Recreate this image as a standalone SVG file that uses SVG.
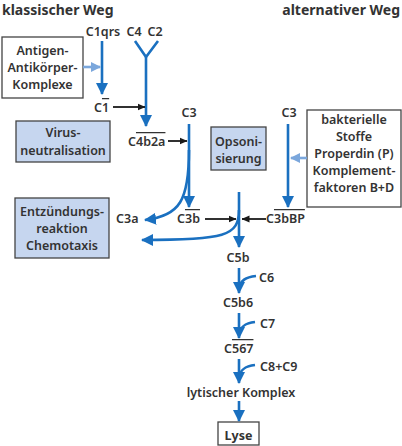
<svg xmlns="http://www.w3.org/2000/svg" width="402" height="446" viewBox="0 0 402 446">
<defs>
<style>
text{font-family:"Noto Sans","Liberation Sans",sans-serif;font-size:12.5px;font-weight:600;fill:#333;}
.t{font-weight:bold;font-size:14px;}
.m{text-anchor:middle;}
.b{font-weight:bold;}
.box{fill:#fff;stroke:#444;stroke-width:1.3;}
.hl{fill:#c6d6ef;stroke:#444;stroke-width:1.3;}
.bl{fill:none;stroke:#1a70c0;stroke-width:2.6;}
.lb{fill:none;stroke:#7ba7dc;stroke-width:2.6;}
.bk{fill:none;stroke:#1a1a1a;stroke-width:1.8;}
.ov{text-decoration:overline;}
</style>
<marker id="ab" markerUnits="userSpaceOnUse" markerWidth="12" markerHeight="12" viewBox="0 0 12 12" refX="11" refY="6" orient="auto"><path d="M0,0 L12,6 L0,12 Z" fill="#1a70c0"/></marker>
<marker id="al" markerUnits="userSpaceOnUse" markerWidth="10" markerHeight="10" viewBox="0 0 10 10" refX="9" refY="5" orient="auto"><path d="M0,0 L10,5 L0,10 Z" fill="#7ba7dc"/></marker>
<marker id="ak" markerUnits="userSpaceOnUse" markerWidth="8" markerHeight="8" viewBox="0 0 8 8" refX="7.5" refY="4" orient="auto"><path d="M0,0.5 L8,4 L0,7.5 Z" fill="#1a1a1a"/></marker>
</defs>

<text class="t" x="2" y="15">klassischer Weg</text>
<text class="t" x="400" y="15" text-anchor="end">alternativer Weg</text>

<g id="antigen"><rect class="box" x="2" y="37" width="81" height="61"/>
<text class="m" x="42.5" y="55">Antigen-</text><text class="m" x="42.5" y="72">Antikörper-</text><text class="m" x="42.5" y="89">Komplexe</text></g>
<g id="virus"><rect class="hl" x="16" y="121" width="94" height="41"/>
<text class="m" x="63" y="137">Virus-</text><text class="m" x="63" y="155">neutralisation</text></g>
<g id="opsonisierung"><rect class="hl" x="211" y="127" width="55" height="43"/>
<text class="m" x="238.5" y="146">Opsoni-</text><text class="m" x="238.5" y="163">sierung</text></g>
<g id="entzuendung"><rect class="hl" x="15" y="198" width="94" height="60"/>
<text class="m" x="62" y="216">Entzündungs-</text><text class="m" x="62" y="233">reaktion</text><text class="m" x="62" y="250">Chemotaxis</text></g>
<g id="bakterielle"><rect class="box" x="307" y="110" width="94" height="97"/>
<text class="m" x="354" y="124">bakterielle</text><text class="m" x="354" y="141">Stoffe</text><text class="m" x="354" y="158">Properdin (P)</text><text class="m" x="354" y="175">Komplement-</text><text class="m" x="354" y="192">faktoren B+D</text></g>

<g id="c1qrs"><text class="m" x="103" y="36">C1qrs</text></g>
<g id="c4"><text class="m" x="134" y="36">C4</text></g>
<g id="c2"><text class="m" x="155" y="36">C2</text></g>
<g id="c1"><text x="94" y="112">C<tspan class="ov">1</tspan></text></g>
<g id="c4b2a"><text x="128" y="146">C<tspan class="ov">4b2a</tspan></text></g>
<g id="c3l"><text class="m" x="189" y="117">C3</text></g>
<g id="c3r"><text class="m" x="289" y="117">C3</text></g>
<g id="c3a"><text x="116" y="223">C3a</text></g>
<g id="c3b"><text x="177" y="223">C<tspan class="ov">3b</tspan></text></g>
<g id="c3bbp"><text x="266" y="223">C<tspan class="ov">3bBP</tspan></text></g>
<g id="c5b"><text class="m" x="238" y="262">C5b</text></g>
<g id="c6"><text x="259" y="282">C6</text></g>
<g id="c5b6"><text class="m" x="238" y="307">C5b6</text></g>
<g id="c7"><text x="260" y="328">C7</text></g>
<g id="c567"><text x="224" y="353">C<tspan class="ov">567</tspan></text></g>
<g id="c8c9"><text x="260" y="371">C8+C9</text></g>
<g id="lytisch"><text class="m" x="241" y="397">lytischer Komplex</text></g>
<g id="lyse"><rect class="box" x="218" y="422" width="41" height="23"/><text class="m b" x="238.5" y="440">Lyse</text></g>

<g id="connectors">
<path class="lb" d="M83,67 H100" marker-end="url(#al)"/>
<path class="lb" d="M307,158 H291" marker-end="url(#al)"/>
<path class="bl" d="M102,41 V94" marker-end="url(#ab)"/>
<path class="bl" d="M135,41 L146,57 L158,41"/>
<path class="bl" d="M146,57 V126" marker-end="url(#ab)"/>
<path class="bl" d="M189,124 V207" marker-end="url(#ab)"/>
<path class="bl" d="M189,150 C189,200 180,216 145,220" marker-end="url(#ab)"/>
<path class="bl" d="M288,124 V207" marker-end="url(#ab)"/>
<path class="bl" d="M239,192 V247" marker-end="url(#ab)"/>
<path class="bl" d="M239,210 C239,236 225,240 142,240" marker-end="url(#ab)"/>
<path class="bl" d="M239,268 V293" marker-end="url(#ab)"/>
<path class="bl" d="M256,276 C246,277 240,280 239,290"/>
<path class="bl" d="M239,313 V338" marker-end="url(#ab)"/>
<path class="bl" d="M255,322 C246,323 240,326 239,335"/>
<path class="bl" d="M239,359 V383" marker-end="url(#ab)"/>
<path class="bl" d="M255,365 C246,366 240,369 239,378"/>
<path class="bl" d="M239,401 V421" marker-end="url(#ab)"/>
<path class="bk" d="M113,107 H145" marker-end="url(#ak)"/>
<path class="bk" d="M168,141 H187" marker-end="url(#ak)"/>
<path class="bk" d="M205,219 H236" marker-end="url(#ak)"/>
<path class="bk" d="M266,219 H242" marker-end="url(#ak)"/>
</g>
</svg>
